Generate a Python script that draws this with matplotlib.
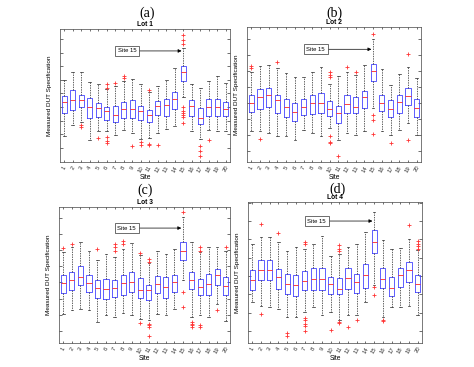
import numpy as np
import matplotlib
matplotlib.use("Agg")
import matplotlib.pyplot as plt

plt.rcParams['font.family'] = ['Liberation Sans', 'DejaVu Sans']

sites = list(range(1, 21))

# Lot 1
lot1_q1 = [3.68, 3.88, 4.13, 3.3, 3.38, 3.18, 2.98, 3.3, 3.3, 3.13, 2.98, 3.55, 3.48, 3.98, 6.1, 3.48, 2.88, 3.48, 3.43, 3.48]
lot1_med = [4.48, 4.68, 4.68, 4.13, 4.05, 3.8, 3.55, 4.0, 3.98, 3.85, 3.55, 4.2, 4.3, 4.73, 6.73, 4.2, 3.3, 4.13, 4.13, 3.98]
lot1_q3 = [4.93, 5.38, 5.03, 4.8, 4.43, 4.13, 4.23, 4.48, 4.68, 4.23, 3.93, 4.55, 4.73, 5.23, 7.18, 4.68, 4.05, 4.75, 4.75, 4.53]
lot1_lo = [1.98, 2.8, 3.0, 1.68, 2.3, 2.3, 2.0, 2.4, 2.2, 1.75, 1.8, 2.2, 2.45, 2.7, 4.9, 2.35, 1.7, 2.4, 2.3, 2.3]
lot1_hi = [6.18, 6.8, 6.73, 6.05, 5.88, 5.5, 5.75, 6.1, 6.25, 5.9, 5.3, 5.75, 6.2, 7.05, 8.6, 5.9, 5.55, 6.1, 6.5, 5.93]
lot1_out = [[], [], [2.75, 2.65], [], [1.8], [5.85, 5.6, 1.9, 1.6, 1.4], [5.95], [6.45, 6.35], [1.2], [1.5, 1.3],
            [5.45, 1.35, 1.3], [1.25], [], [], [9.55, 9.2, 8.85, 4.1, 3.8, 3.7, 3.55, 3.4, 2.9], [], [1.2, 0.8, 0.48],
            [1.68], [], []]

# Lot 2
lot2_q1 = [3.73, 3.9, 4.05, 3.66, 3.37, 3.07, 3.5, 3.54, 3.66, 3.4, 2.92, 3.66, 3.6, 3.98, 6.0, 3.78, 3.37, 3.6, 4.2, 3.37]
lot2_med = [4.4, 4.84, 4.94, 4.6, 4.05, 3.73, 4.05, 4.4, 4.4, 3.9, 3.66, 4.3, 4.1, 4.8, 6.76, 4.4, 3.9, 4.47, 4.9, 3.98]
lot2_q3 = [5.0, 5.38, 5.48, 5.0, 4.7, 4.35, 4.64, 5.0, 5.08, 4.55, 4.15, 4.96, 4.8, 5.28, 7.25, 5.0, 4.6, 4.96, 5.45, 4.7]
lot2_lo = [2.26, 2.3, 2.15, 1.9, 1.9, 1.65, 2.38, 2.15, 1.95, 2.5, 1.65, 2.15, 2.0, 2.26, 4.0, 2.26, 2.0, 2.38, 2.9, 2.0]
lot2_hi = [6.7, 7.1, 7.15, 7.0, 6.6, 6.3, 6.3, 6.7, 7.05, 5.8, 6.35, 6.7, 6.45, 7.2, 9.1, 6.9, 5.7, 6.55, 7.05, 6.2]
lot2_out = [[7.1, 7.0], [1.7], [], [7.4], [], [], [], [], [], [6.7, 6.45, 6.3, 1.9, 1.5, 1.4],
            [0.47], [7.05], [6.7], [], [9.5, 3.5, 3.1, 2.1], [], [1.4], [], [8.0, 1.6], []]

# Lot 3
lot3_q1 = [3.68, 3.87, 4.24, 3.75, 3.33, 3.2, 3.38, 3.5, 3.75, 3.33, 3.19, 3.68, 3.33, 3.75, 6.08, 4.0, 3.5, 3.55, 4.24, 3.5]
lot3_med = [4.41, 4.6, 4.85, 4.41, 4.04, 4.0, 4.07, 4.41, 4.5, 3.92, 3.87, 4.36, 4.1, 4.5, 6.74, 4.6, 4.1, 4.36, 4.97, 4.17]
lot3_q3 = [4.98, 5.22, 5.64, 4.98, 4.66, 4.73, 4.66, 4.98, 5.22, 4.8, 4.3, 4.9, 4.85, 5.02, 7.43, 5.22, 4.73, 5.1, 5.46, 4.85]
lot3_lo = [2.16, 2.4, 2.5, 2.4, 1.55, 2.03, 1.9, 2.2, 2.03, 1.8, 1.7, 2.16, 2.03, 2.5, 4.6, 1.9, 2.03, 1.9, 2.9, 1.65]
lot3_hi = [6.7, 7.05, 7.4, 6.8, 6.1, 6.55, 6.3, 6.9, 7.35, 6.5, 5.9, 6.8, 6.55, 6.9, 9.25, 7.45, 6.7, 7.05, 7.05, 6.8]
lot3_out = [[7.0], [7.3], [], [], [6.9], [], [7.3, 7.05, 6.75], [7.5, 7.3], [], [6.6, 1.45],
            [6.15, 5.95, 1.42, 1.3, 1.18, 0.49], [], [], [], [9.6, 3.75, 2.65], [1.55, 1.4, 1.3, 1.2],
            [7.05, 6.75, 1.3, 1.15], [], [2.4], [7.05]]

# Lot 4
lot4_q1 = [3.78, 4.44, 4.49, 3.85, 3.45, 3.33, 3.73, 3.73, 3.73, 3.5, 3.45, 3.85, 3.57, 3.9, 6.38, 3.92, 3.31, 3.97, 4.33, 3.62]
lot4_med = [4.49, 5.2, 5.2, 4.68, 4.16, 4.09, 4.4, 4.56, 4.56, 4.16, 3.85, 4.63, 4.33, 4.85, 7.16, 4.56, 3.92, 4.8, 5.15, 4.2]
lot4_q3 = [5.15, 5.91, 5.86, 5.27, 4.92, 4.8, 5.1, 5.34, 5.34, 4.68, 4.63, 5.34, 4.92, 5.63, 7.99, 5.34, 4.68, 5.34, 5.74, 4.85]
lot4_lo = [2.9, 2.6, 2.55, 2.43, 1.84, 1.84, 2.2, 2.55, 1.96, 2.2, 1.65, 2.0, 1.96, 2.9, 4.1, 1.84, 2.55, 2.55, 2.6, 1.96]
lot4_hi = [7.0, 7.52, 7.52, 7.16, 6.52, 6.8, 6.65, 7.0, 7.56, 6.2, 6.33, 6.8, 7.05, 7.87, 9.29, 7.28, 6.69, 6.76, 7.4, 6.57]
lot4_out = [[], [8.46, 2.08], [], [7.83], [0.71, 0.5], [], [7.16, 7.0, 1.8, 1.6, 1.37, 1.2, 0.85], [], [], [0.9],
            [6.93, 6.7, 6.5, 1.49, 1.42], [1.13], [1.6], [], [3.97, 3.43], [1.65, 1.58], [], [], [8.35],
            [7.21, 7.05, 6.86, 6.69]]

titles = ['Lot 1', 'Lot 2', 'Lot 3', 'Lot 4']
panel_tags = ['(a)', '(b)', '(c)', '(d)']
note = 'Site 15'

lots = [
    (lot1_q1, lot1_med, lot1_q3, lot1_lo, lot1_hi, lot1_out),
    (lot2_q1, lot2_med, lot2_q3, lot2_lo, lot2_hi, lot2_out),
    (lot3_q1, lot3_med, lot3_q3, lot3_lo, lot3_hi, lot3_out),
    (lot4_q1, lot4_med, lot4_q3, lot4_lo, lot4_hi, lot4_out),
]

# layout: axes rect, first tick, tick step, note y, tag position
layout = [
    ([0.1266, 0.5586, 0.3586, 0.3624], 1.05, 1.025, 8.35, (0.310, 0.965)),
    ([0.5211, 0.5586, 0.3671, 0.3678], 0.84, 1.18, 8.35, (0.705, 0.965)),
    ([0.1245, 0.0654, 0.3608, 0.3706], 0.88, 1.19, 8.45, (0.306, 0.482)),
    ([0.5232, 0.0654, 0.3671, 0.3842], 0.85, 1.30, 8.65, (0.713, 0.485)),
]

fig = plt.figure(figsize=(4.74, 3.67), dpi=100)

for (q1, med, q3, lo, hi, out), (rect, t0, dt, ny, tagpos), title, tag in zip(lots, layout, titles, panel_tags):
    ax = fig.add_axes(rect)
    stats = []
    for i in range(len(sites)):
        stats.append({'med': med[i], 'q1': q1[i], 'q3': q3[i],
                      'whislo': lo[i], 'whishi': hi[i], 'fliers': out[i]})
    ax.bxp(stats, positions=sites, widths=0.6, capwidths=0.3,
           boxprops=dict(color='#4444ff', linewidth=0.6),
           medianprops=dict(color='#ff2222', linewidth=0.6),
           whiskerprops=dict(color='#222222', linewidth=0.5, linestyle=(0, (2, 1.5))),
           capprops=dict(color='#222222', linewidth=0.5),
           flierprops=dict(marker='+', markeredgecolor='#ff3333', markersize=3, markeredgewidth=0.6,
                           linestyle='none'))
    ax.set_xlim(0.5, 20.5)
    ax.set_ylim(0, 10)
    ax.set_yticks(np.arange(t0, 10, dt))
    ax.set_yticklabels([])
    ax.set_xticks(sites)
    ax.set_xticklabels([str(s) for s in sites], rotation=60, fontsize=4.2, color='#333333')
    ax.tick_params(axis='y', direction='in', length=2, width=0.4, right=True)
    ax.tick_params(axis='x', direction='in', length=1.5, width=0.4, top=True, pad=2)
    for sp in ax.spines.values():
        sp.set_linewidth(0.5)
        sp.set_color('#444444')
    ax.set_title(title, fontsize=4.8, fontweight='bold', pad=2)
    ax.set_xlabel('Site', fontsize=4.8, labelpad=1)
    ax.set_ylabel('Measured DUT Specification', fontsize=4.6)
    ax.yaxis.set_label_coords(-0.045, 0.5)
    ax.annotate(note, xy=(14.8, ny), xytext=(8.4, ny), fontsize=4.2, va='center', ha='center',
                bbox=dict(boxstyle='square,pad=0.45', fc='white', ec='#333333', lw=0.5),
                arrowprops=dict(arrowstyle='-|>', color='black', lw=0.5, mutation_scale=5,
                                shrinkA=0, shrinkB=0))
    fig.text(tagpos[0], tagpos[1], tag, fontsize=10, family='Liberation Serif', ha='center', va='center')

fig.savefig('out.png', dpi=100)
